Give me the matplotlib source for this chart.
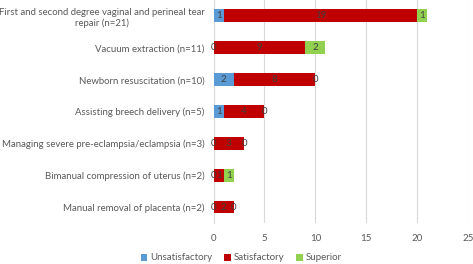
import matplotlib
matplotlib.use("Agg")
import matplotlib.pyplot as plt
import numpy as np

categories = [
    "First and second degree vaginal and perineal tear\nrepair (n=21)",
    "Vacuum extraction (n=11)",
    "Newborn resuscitation (n=10)",
    "Assisting breech delivery (n=5)",
    "Managing severe pre-eclampsia/eclampsia (n=3)",
    "Bimanual compression of uterus (n=2)",
    "Manual removal of placenta (n=2)",
]
unsatisfactory = [1, 0, 2, 1, 0, 0, 0]
satisfactory = [19, 9, 8, 4, 3, 1, 2]
superior = [1, 2, 0, 0, 0, 1, 0]
series_names = ["Unsatisfactory", "Satisfactory", "Superior"]
colors = ["#5B9BD5", "#C00000", "#92D050"]
xticks = [0, 5, 10, 15, 20, 25]

plt.rcParams['font.family'] = ['Lato', 'DejaVu Sans']
txt = "#595959"

fig = plt.figure(figsize=(4.73, 2.64), dpi=100)
ax = fig.add_axes([213.5/473, 1 - 223/264, (468 - 213.5)/473, 225/264])

y = np.arange(len(categories))
left = np.zeros(len(categories))
for vals, name, c in zip([unsatisfactory, satisfactory, superior], series_names, colors):
    vals = np.array(vals, dtype=float)
    ax.barh(y, vals, left=left, height=0.4, color=c, label=name, zorder=3)
    for yi, l, v in zip(y, left, vals):
        ax.text(l + v / 2, yi, f"{int(v)}", ha='center', va='center',
                fontsize=7, color="#404040", zorder=4)
    left += vals

ax.set_xlim(0, 25)
ax.set_ylim(6.5, -0.56)
ax.set_xticks(xticks)
ax.set_yticks(y)
ax.set_yticklabels(categories, fontsize=6.9, color=txt, multialignment='center')
ax.tick_params(axis='x', labelsize=7, colors=txt, length=0, pad=8)
ax.tick_params(axis='y', length=0, pad=6.5)
ax.grid(axis='x', color="#D9D9D9", linewidth=0.8, zorder=0)
for s in ['top', 'right', 'bottom']:
    ax.spines[s].set_visible(False)
ax.spines['left'].set_color("#D9D9D9")
ax.spines['left'].set_zorder(1)

leg = fig.legend(loc='center', bbox_to_anchor=(0.51, 1 - 258/264), ncol=3,
                 frameon=False, fontsize=7, handlelength=0.7, handleheight=0.7,
                 handletextpad=0.3, columnspacing=1.2)
for t in leg.get_texts():
    t.set_color(txt)

fig.savefig("out.png", dpi=100)
